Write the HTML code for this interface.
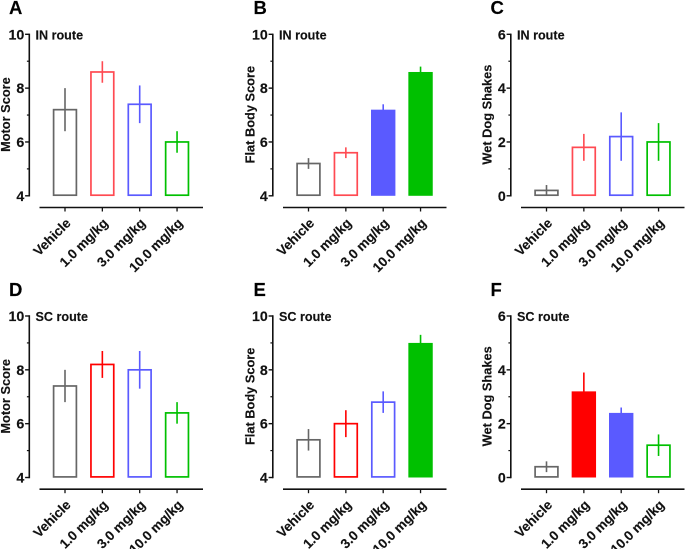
<!DOCTYPE html>
<html lang="en">
<head>
<meta charset="utf-8">
<title>Dose response bar charts</title>
<style>
html,body{margin:0;padding:0;background:#fff;width:685px;height:549px;overflow:hidden}
svg{display:block;font-family:"Liberation Sans",Arial,sans-serif;font-weight:bold;fill:#111}
text{stroke:#111;stroke-width:0.15px}
</style>
</head>
<body>
<svg id="figure" xmlns="http://www.w3.org/2000/svg" width="685" height="549" viewBox="0 0 685 549"></svg>
<script>
const categories = ['Vehicle', '1.0 mg/kg', '3.0 mg/kg', '10.0 mg/kg'];
const motorTicks = [4, 6, 8, 10];
const shakeTicks = [0, 2, 4, 6];

const valuesA = [7.2, 8.6, 7.4, 6.0];
const lowA = [6.4, 8.2, 6.7, 5.6];
const highA = [8.0, 9.0, 8.1, 6.4];

const valuesB = [5.2, 5.6, 7.2, 8.6];
const lowB = [5.0, 5.4, 7.0, 8.4];
const highB = [5.4, 5.8, 7.4, 8.8];

const valuesC = [0.2, 1.8, 2.2, 2.0];
const lowC = [0.0, 1.3, 1.3, 1.3];
const highC = [0.4, 2.3, 3.1, 2.7];

const valuesD = [7.4, 8.2, 8.0, 6.4];
const lowD = [6.8, 7.7, 7.3, 6.0];
const highD = [8.0, 8.7, 8.7, 6.8];

const valuesE = [5.4, 6.0, 6.8, 9.0];
const lowE = [5.0, 5.5, 6.4, 8.7];
const highE = [5.8, 6.5, 7.2, 9.3];

const valuesF = [0.4, 3.2, 2.4, 1.2];
const lowF = [0.2, 2.5, 2.2, 0.8];
const highF = [0.6, 3.9, 2.6, 1.6];

const filledA = [false, false, false, false];
const filledB = [false, false, true, true];
const filledC = [false, false, false, false];
const filledD = [false, false, false, false];
const filledE = [false, false, false, true];
const filledF = [false, true, true, false];

const panels = [
  {id:'a', letter:'A', route:'IN route', title:'Motor Score', ticks:motorTicks, values:valuesA, low:lowA, high:highA, filled:filledA, col:0, row:0, red:'#ff4a52'},
  {id:'b', letter:'B', route:'IN route', title:'Flat Body Score', ticks:motorTicks, values:valuesB, low:lowB, high:highB, filled:filledB, col:1, row:0, red:'#ff4a52'},
  {id:'c', letter:'C', route:'IN route', title:'Wet Dog Shakes', ticks:shakeTicks, values:valuesC, low:lowC, high:highC, filled:filledC, col:2, row:0, red:'#ff4a52'},
  {id:'d', letter:'D', route:'SC route', title:'Motor Score', ticks:motorTicks, values:valuesD, low:lowD, high:highD, filled:filledD, col:0, row:1, red:'#ff0000'},
  {id:'e', letter:'E', route:'SC route', title:'Flat Body Score', ticks:motorTicks, values:valuesE, low:lowE, high:highE, filled:filledE, col:1, row:1, red:'#ff0000'},
  {id:'f', letter:'F', route:'SC route', title:'Wet Dog Shakes', ticks:shakeTicks, values:valuesF, low:lowF, high:highF, filled:filledF, col:2, row:1, red:'#ff0000'}
];

const NS = 'http://www.w3.org/2000/svg';
const root = document.getElementById('figure');
const columnOffsets = [0, 243.5, 481.5];
const rowOffsets = [0, 281.7];
const titleBaselines = [10, 254.5, 491.5];
const letterLefts = [9, 253.5, 490.5];

function make(tag, parent, props, text) {
  const el = document.createElementNS(NS, tag);
  for (const key in props) el.setAttribute(key, props[key]);
  if (text !== undefined) el.textContent = text;
  parent.appendChild(el);
  return el;
}

panels.forEach(function (p) {
  const dx = columnOffsets[p.col];
  const dy = rowOffsets[p.row];
  const axisX = 29.3 + dx;
  const plotTop = 34.3 + dy;
  const plotBottom = 195.8 + dy;
  const axisY = 207.5 + dy;
  const domainMin = p.ticks[0];
  const domainMax = p.ticks[p.ticks.length - 1];
  const yScale = function (v) {
    return plotBottom - (v - domainMin) / (domainMax - domainMin) * (plotBottom - plotTop);
  };
  const xScale = function (i) {
    return 65 + dx + i * 37.35;
  };
  const colors = ['#666666', p.red, '#5a5aff', '#00c000'];

  const g = make('g', root, {});
  
  

  const letter = make('text', g, {x: letterLefts[p.col], y: 14 + dy + (p.row ? 0.3 : 0), 'font-size': 18.5, fill: '#000'}, p.letter);
  
  

  const route = make('text', g, {x: axisX + 6.2, y: 39.3 + dy, 'font-size': 12.6}, p.route);
  
  

  const titleX = titleBaselines[p.col];
  const titleY = 114.6 + dy;
  const yTitle = make('text', g, {x: titleX, y: titleY, 'font-size': 12.8, 'text-anchor': 'middle', transform: 'rotate(-90 ' + titleX + ' ' + titleY + ')'}, p.title);
  
  

  const yAxis = make('line', g, {x1: axisX, x2: axisX, y1: plotTop - 0.7, y2: plotBottom + 0.7, stroke: '#111', 'stroke-width': 1.6});
  
  

  for (let i = 0; i < p.ticks.length; i++) {
    const t = p.ticks[i];
    const tickY = yScale(t);
    const tick = make('line', g, {x1: axisX - 4.2, x2: axisX, y1: tickY, y2: tickY, stroke: '#111', 'stroke-width': 1.4});
    
    
    const label = make('text', g, {x: axisX - 5, y: tickY + 5, 'font-size': 14.2, 'text-anchor': 'end'}, String(t));
    
    
    if (i < p.ticks.length - 1) {
      const minorValue = (t + p.ticks[i + 1]) / 2;
      const minorY = yScale(minorValue);
      const minor = make('line', g, {x1: axisX - 2.4, x2: axisX, y1: minorY, y2: minorY, stroke: '#111', 'stroke-width': 1.2});
      
      
    }
  }

  const xAxis = make('line', g, {x1: 39.5 + dx, x2: 203 + dx, y1: axisY, y2: axisY, stroke: '#111', 'stroke-width': 1.6});
  
  

  categories.forEach(function (name, i) {
    const cx = xScale(i);
    const color = colors[i];
    const top = yScale(p.values[i]);
    let bar;
    if (p.filled[i]) {
      bar = make('rect', g, {x: cx - 12.2, y: top, width: 24.4, height: plotBottom - top, fill: color});
    } else {
      bar = make('rect', g, {x: cx - 11.4, y: top, width: 22.8, height: plotBottom - top - 0.6, fill: 'none', stroke: color, 'stroke-width': 1.7});
    }
    
    

    const err = make('line', g, {x1: cx, x2: cx, y1: yScale(p.high[i]), y2: yScale(p.low[i]), stroke: color, 'stroke-width': 1.6});
    
    

    const xTick = make('line', g, {x1: cx, x2: cx, y1: axisY, y2: axisY + 4, stroke: '#111', 'stroke-width': 1.3});
    
    

    const lx = cx + 6.5;
    const ly = axisY + 16.5;
    const xLabel = make('text', g, {x: lx, y: ly, 'font-size': 13.4, 'text-anchor': 'end', transform: 'rotate(-45 ' + lx + ' ' + ly + ')'}, name);
    
    
  });
});
</script>
</body>
</html>
